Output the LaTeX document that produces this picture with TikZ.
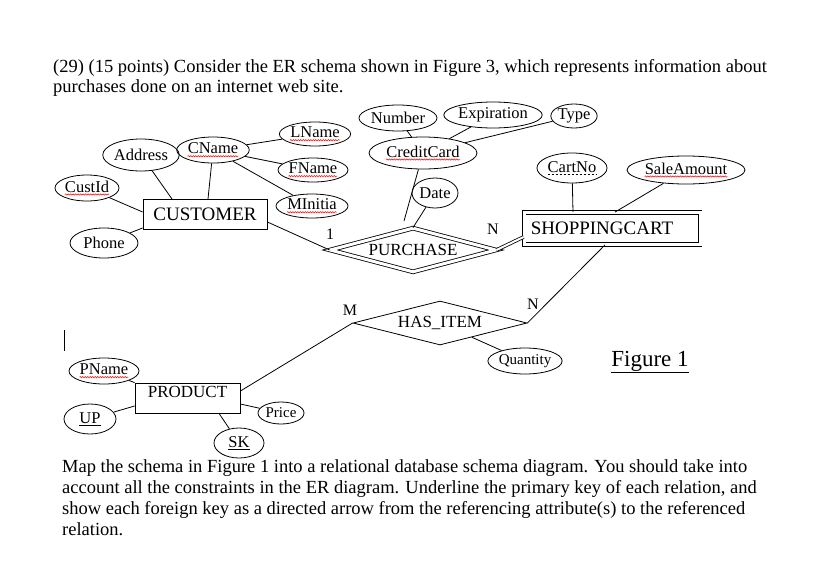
\documentclass[tikz,border=0pt]{standalone}
\usepackage{fontspec}
\setmainfont{Liberation Serif}
\usetikzlibrary{shapes.geometric, decorations.pathmorphing}
\tikzset{
  plain/.style={shape=rectangle, draw=none, inner sep=0pt, minimum size=0pt, double=none},
  attr/.style={ellipse, draw, thick, inner sep=0pt, font=\fontsize{16.5}{16.5}\selectfont},
  ent/.style={rectangle, draw, thick, inner sep=0pt},
  rel/.style={diamond, draw, thick, inner sep=0pt, aspect=3},
  txt/.style={anchor=base west, inner sep=0pt, font=\fontsize{18.5}{21}\selectfont},
  lnk/.style={thick}
}
\newcommand{\sqw}[1]{\tikz[baseline=(w.base)]{\node[plain] (w) {#1};
  \draw[red, line width=0.5pt, decorate, decoration={snake, amplitude=0.7pt, segment length=2.5pt}]
    ([yshift=-2.5pt]w.base west) -- ([yshift=-2.5pt]w.base east);}}
\newcommand{\dul}[1]{\tikz[baseline=(w.base)]{\node[plain] (w) {#1};
  \draw[line width=0.6pt, dash pattern=on 2.5pt off 1.5pt]
    ([yshift=-1.8pt]w.base west) -- ([yshift=-1.8pt]w.base east);}}
\begin{document}
\begin{tikzpicture}[x=1pt,y=-1pt]
\useasboundingbox (0,0) rectangle (837,562);
% question text
\node (q1) [txt] at (53,72) {(29) (15 points) Consider the ER schema shown in Figure 3, which represents information about};
\node (q2) [txt] at (53,92) {purchases done on an internet web site.};
% attributes
\node (number) [attr, minimum width=78, minimum height=26] at (398,118) {Number};
\node (expir) [attr, minimum width=90, minimum height=26] at (493,115) {Expiration};
\node (type) [attr, minimum width=46, minimum height=24] at (574,116) {Type};
\node (cc) [attr, minimum width=108, minimum height=32] at (423,153) {\sqw{CreditCard}};
\node (lname) [attr, minimum width=66, minimum height=24] at (315,134) {\sqw{LName}};
\node (cname) [attr, minimum width=70, minimum height=26] at (213,150) {\sqw{CName}};
\node (addr) [attr, minimum width=76, minimum height=32] at (141,155) {Address};
\node (fname) [attr, minimum width=66, minimum height=24] at (313,170) {\sqw{FName}};
\node (minit) [attr, minimum width=72, minimum height=24] at (312,206) {\sqw{MInitia}};
\node (custid) [attr, minimum width=64, minimum height=26] at (87,188) {\sqw{CustId}};
\node (date) [attr, minimum width=46, minimum height=30] at (435,193) {Date};
\node (phone) [attr, minimum width=68, minimum height=30] at (104,243) {Phone};
\node (cartno) [attr, minimum width=66, minimum height=30] at (572,168) {\dul{CartNo}};
\node (sale) [attr, minimum width=108, minimum height=28] at (686,170) {\sqw{SaleAmount}};
\node (qty) [attr, minimum width=74, minimum height=26, font=\fontsize{15}{15}\selectfont] at (525,361) {Quantity};
\node (pname) [attr, minimum width=66, minimum height=26] at (104,371) {\sqw{PName}};
\node (price) [attr, minimum width=46, minimum height=22, font=\fontsize{15}{15}\selectfont] at (281,413) {Price};
\node (up) [attr, minimum width=52, minimum height=30] at (90,419) {\underline{UP}};
\node (sk) [attr, minimum width=50, minimum height=30] at (239,443) {\underline{SK}};
% entities
\node (cust) [ent, minimum width=124, minimum height=30, font=\fontsize{19}{19}\selectfont] at (205,214) {CUSTOMER};
\node (cart) [ent, double, double distance=3pt, minimum width=176, minimum height=32, font=\fontsize{19}{19}\selectfont] at (612,228.5) {\hspace*{-20pt}SHOPPINGCART};
\node (prod) [ent, minimum width=105, minimum height=30] at (187.5,398) {};
\node (prodt) [anchor=north, inner sep=0pt, font=\fontsize{17}{17}\selectfont] at (prod.north) {\raisebox{0pt}[15pt]{PRODUCT}};
% relationships
\node (purch) [rel, double, double distance=3pt, minimum width=166, minimum height=44, font=\fontsize{17}{17}\selectfont] at (413,250) {PURCHASE};
\node (has) [rel, minimum width=174, minimum height=44, font=\fontsize{17}{17}\selectfont] at (440,323) {HAS\_ITEM};
% connectors
\draw [lnk] (custid) -- (cust.west |- 0,212);
\draw [lnk] (phone) -- (cust.west |- 0,228);
\draw [lnk] (addr) -- (172,199);
\draw [lnk] (cname) -- (208,199);
\draw [lnk] (cname) -- (lname);
\draw [lnk] (cname) -- (fname);
\draw [lnk] (cname) -- (minit);
\draw [lnk] (cust.east |- 0,222) -- (purch.west);
\draw [lnk] (cc) -- (404,221);
\draw [lnk] (date) -- (purch.north);
\draw [lnk] (number) -- (cc);
\draw [lnk] (expir) -- (cc);
\draw [lnk] (type) -- (cc);
\draw [lnk, double, double distance=2pt] (purch.east) -- (cart.west |- 0,237);
\draw [lnk] (cartno) -- (cart.north -| 573,0);
\draw [lnk] (sale) -- (cart.north -| 615,0);
\draw [lnk] (cart.south -| 605,0) -- (has.east);
\draw [lnk] (has.west) -- (prod.east |- 0,391);
\draw [lnk] (has) -- (qty);
\draw [lnk] (pname) -- (prod.north west);
\draw [lnk] (up) -- (prod.west |- 0,406);
\draw [lnk] (prod.east |- 0,404) -- (price);
\draw [lnk] (prod.south -| 219,0) -- (sk);
% cardinalities
\node (c1) [font=\fontsize{16}{16}\selectfont] at (330,234) {1};
\node (c2) [font=\fontsize{16}{16}\selectfont] at (493,229) {N};
\node (c3) [font=\fontsize{16}{16}\selectfont] at (533,304) {N};
\node (c4) [font=\fontsize{16}{16}\selectfont] at (350,310) {M};
\node (fig) [font=\fontsize{23}{23}\selectfont] at (650,362) {\underline{Figure 1}};
\coordinate (bar1) at (64,330);
\coordinate (bar2) at (64,351);
\draw (bar1) -- (bar2);
% task text
\node (t1) [txt] at (62,472) {Map the schema in Figure 1 into a relational database schema diagram. You should take into};
\node (t2) [txt] at (62,493) {account all the constraints in the ER diagram. Underline the primary key of each relation, and};
\node (t3) [txt] at (62,514) {show each foreign key as a directed arrow from the referencing attribute(s) to the referenced};
\node (t4) [txt] at (62,535) {relation.};
\end{tikzpicture}
\end{document}
